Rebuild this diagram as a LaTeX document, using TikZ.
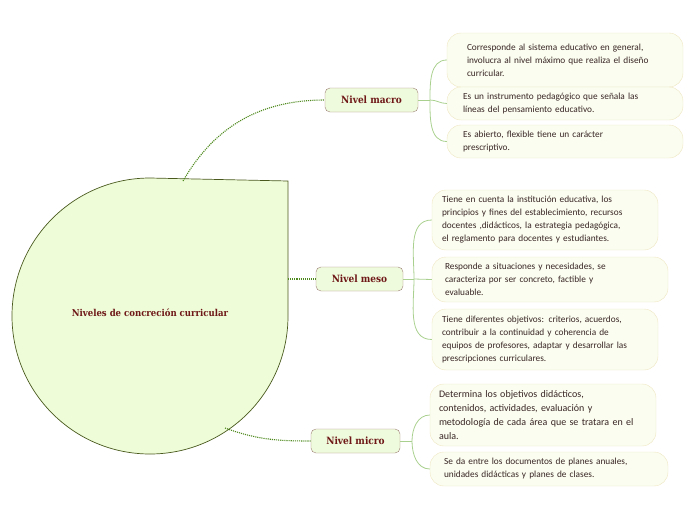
\documentclass[tikz,border=0pt]{standalone}
\usepackage{fontspec}
\setmainfont{Carlito}
\newfontfamily\slab{DejaVu Serif Condensed}
\definecolor{maingreen}{HTML}{EEFCD8}
\definecolor{mainborder}{HTML}{4A5A1E}
\definecolor{titlered}{HTML}{6E1818}
\definecolor{subfill}{HTML}{EFFBDD}
\definecolor{subborder}{HTML}{9C7E74}
\definecolor{leaffill}{HTML}{FAFDEF}
\definecolor{leafborder}{HTML}{EFE6C2}
\definecolor{leaftext}{HTML}{3A2626}
\definecolor{dotgreen}{HTML}{4E8A1E}
\definecolor{brgreen}{HTML}{A9D08E}
\begin{document}
\begin{tikzpicture}[x=1pt,y=-1pt,
  subnode/.style={draw=subborder,fill=subfill,rounded corners=5pt,font=\slab\bfseries\fontsize{10}{12}\selectfont,text=titlered,inner sep=0pt,minimum height=24pt},
  leaf/.style={draw=leafborder,fill=leaffill,rounded corners=14pt,font=\fontsize{9.3}{13}\selectfont,text=leaftext,align=left,inner sep=0pt},
  dotline/.style={draw=dotgreen,densely dotted,line width=1.1pt},
  brline/.style={draw=brgreen,line width=0.8pt}]
\useasboundingbox (0,0) rectangle (696,520);
% central shape
\path[draw=mainborder,fill=maingreen,line width=0.7pt] (288,181) -- (288,316) arc[start angle=0,end angle=270,radius=138] -- cycle;
\node[font=\slab\bfseries\fontsize{9.5}{11}\selectfont,text=titlered] (center) at (150,313) {Niveles de concreción curricular};
\coordinate (ctop) at (183,181);
\coordinate (cmid) at (288,279);
\coordinate (cbot) at (225,428);
% sub nodes
\node[subnode,minimum width=93pt] (macro) at (371.5,100) {Nivel macro};
\node[subnode,minimum width=87pt] (meso) at (359.5,279) {Nivel meso};
\node[subnode,minimum width=89pt] (micro) at (355.5,441) {Nivel micro};
\draw[dotline] (ctop) to[out=60,in=180] (macro.west);
\draw[dotline] (cmid) -- (meso.west);
\draw[dotline] (cbot) to[out=-20,in=180] (micro.west);
% leaves macro
\node[leaf,minimum width=236pt,minimum height=54pt,text width=196pt] (m1) at (565,60) {Corresponde al sistema educativo en general,\\involucra al nivel máximo que realiza el diseño\\curricular.};
\node[leaf,minimum width=236pt,minimum height=33pt,text width=204pt] (m2) at (565,103.5) {Es un instrumento pedagógico que señala las\\líneas del pensamiento educativo.};
\node[leaf,minimum width=236pt,minimum height=33pt,text width=204pt] (m3) at (565,141.5) {Es abierto, flexible tiene un carácter\\prescriptivo.};
% leaves meso
\node[leaf,minimum width=226pt,minimum height=60pt,text width=206pt] (s1) at (545,220) {Tiene en cuenta la institución educativa, los\\principios y fines del establecimiento, recursos\\docentes ,didácticos, la estrategia pedagógica,\\el reglamento para docentes y estudiantes.};
\node[leaf,minimum width=236pt,minimum height=45pt,text width=210pt] (s2) at (550,279.5) {Responde a situaciones y necesidades, se\\caracteriza por ser concreto, factible y\\evaluable.};
\node[leaf,minimum width=226pt,minimum height=61pt,text width=206pt] (s3) at (545,339.5) {Tiene diferentes objetivos: criterios, acuerdos,\\contribuir a la continuidad y coherencia de\\equipos de profesores, adaptar y desarrollar las\\prescripciones curriculares.};
% leaves micro
\node[leaf,minimum width=226pt,minimum height=62pt,text width=208pt,font=\fontsize{10}{14}\selectfont] (u1) at (543,415) {Determina los objetivos didácticos,\\contenidos, actividades, evaluación y\\metodología de cada área que se tratara en el\\aula.};
\node[leaf,minimum width=238pt,minimum height=34pt,text width=210pt] (u2) at (549,469) {Se da entre los documentos de planes anuales,\\unidades didácticas y planes de clases.};
% brackets
\coordinate (jm) at (430,100);
\coordinate (js) at (414,279);
\coordinate (ju) at (412,441);
\draw[brline] (macro.east) -- (jm);
\draw[brline] (jm) to[out=90,in=180] (m1.west);
\draw[brline] (jm) to[out=0,in=180] (m2.west);
\draw[brline] (jm) to[out=-90,in=180] (m3.west);
\draw[brline] (meso.east) -- (js);
\draw[brline] (js) to[out=90,in=180] (s1.west);
\draw[brline] (js) -- (s2.west);
\draw[brline] (js) to[out=-90,in=180] (s3.west);
\draw[brline] (micro.east) -- (ju);
\draw[brline] (ju) to[out=90,in=180] (u1.west);
\draw[brline] (ju) to[out=-90,in=180] (u2.west);
\end{tikzpicture}
\end{document}
